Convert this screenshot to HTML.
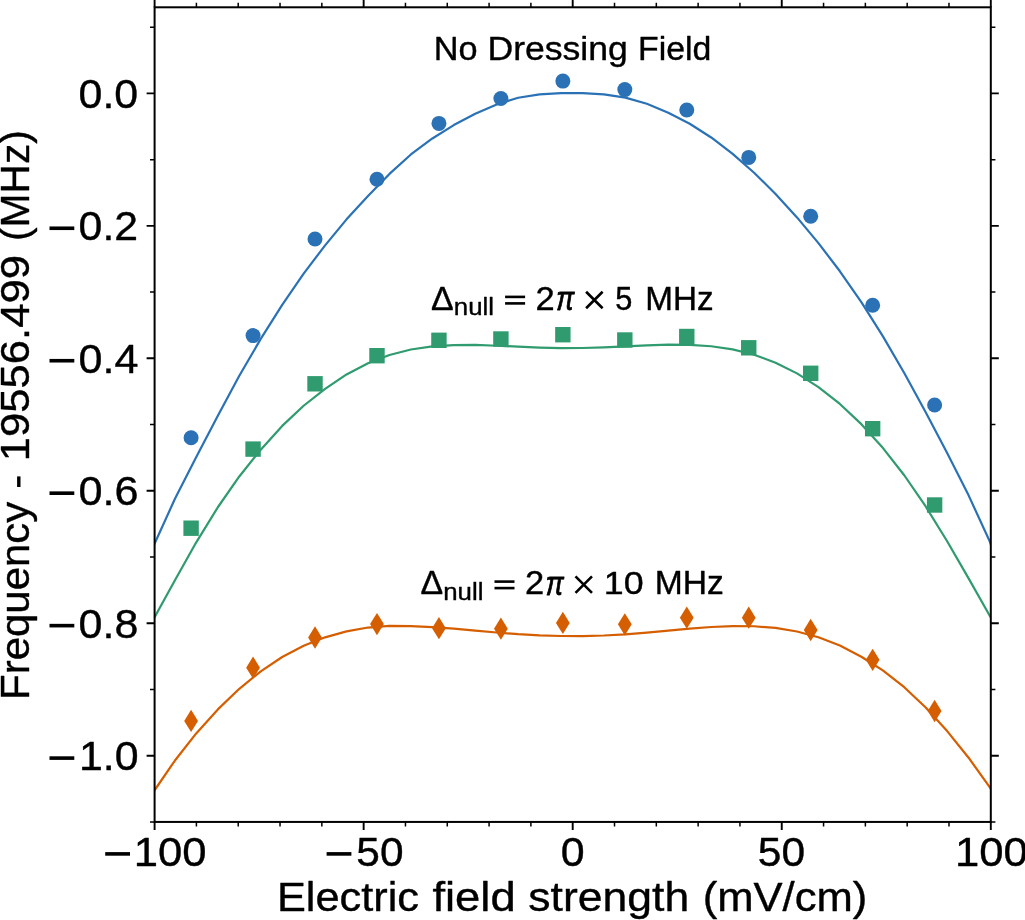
<!DOCTYPE html>
<html><head><meta charset="utf-8"><title>Chart</title>
<style>html,body{margin:0;padding:0;background:#fff;width:1025px;height:920px;overflow:hidden}svg{display:block;will-change:transform}</style>
</head><body>
<svg width="1025" height="920" viewBox="0 0 1025 920">
<defs><clipPath id="ax"><rect x="154.60" y="7.30" width="836.20" height="814.63"/></clipPath></defs>
<rect x="0" y="0" width="1025" height="920" fill="#fff"/>
<g fill="none" stroke-width="2.2" stroke-linejoin="round" clip-path="url(#ax)">
<path d="M132.05,612.39 L153.50,546.04 L174.95,498.79 L196.40,456.74 L217.85,415.64 L239.30,375.80 L260.75,338.90 L282.20,304.82 L303.65,273.59 L325.10,245.35 L346.55,219.35 L368.00,195.92 L389.45,173.91 L410.90,154.49 L432.35,138.46 L453.80,125.09 L475.25,113.76 L496.70,104.39 L518.15,97.75 L539.60,94.30 L561.05,93.09 L582.50,93.11 L603.95,94.37 L625.40,97.59 L646.85,103.81 L668.30,112.67 L689.75,123.76 L711.20,137.49 L732.65,153.84 L754.10,172.71 L775.55,193.93 L797.00,217.40 L818.45,243.12 L839.90,271.28 L861.35,302.18 L882.80,336.08 L904.25,372.94 L925.70,412.24 L947.15,453.11 L968.60,495.34 L990.05,542.16 L1011.50,606.21" stroke="#2a72b5"/>
<path d="M132.05,653.60 L153.50,619.26 L174.95,580.33 L196.40,542.07 L217.85,507.25 L239.30,476.48 L260.75,449.65 L282.20,425.91 L303.65,405.76 L325.10,388.86 L346.55,374.42 L368.00,363.29 L389.45,355.03 L410.90,349.50 L432.35,346.34 L453.80,345.09 L475.25,344.94 L496.70,345.73 L518.15,346.65 L539.60,347.54 L561.05,348.05 L582.50,348.01 L603.95,347.36 L625.40,346.35 L646.85,345.37 L668.30,344.71 L689.75,344.84 L711.20,346.25 L732.65,349.42 L754.10,354.77 L775.55,362.67 L797.00,373.37 L818.45,387.07 L839.90,403.95 L861.35,424.14 L882.80,447.84 L904.25,475.25 L925.70,506.49 L947.15,541.23 L968.60,578.42 L990.05,616.25 L1011.50,650.07" stroke="#2f9b6f"/>
<path d="M132.05,826.84 L153.50,791.76 L174.95,760.52 L196.40,733.15 L217.85,709.41 L239.30,688.79 L260.75,671.30 L282.20,657.03 L303.65,645.74 L325.10,637.35 L346.55,631.35 L368.00,627.53 L389.45,625.97 L410.90,626.06 L432.35,627.11 L453.80,628.71 L475.25,630.58 L496.70,632.51 L518.15,634.20 L539.60,635.40 L561.05,636.01 L582.50,636.04 L603.95,635.48 L625.40,634.32 L646.85,632.64 L668.30,630.65 L689.75,628.66 L711.20,627.01 L732.65,626.08 L754.10,626.25 L775.55,627.93 L797.00,631.48 L818.45,637.27 L839.90,645.59 L861.35,656.71 L882.80,670.44 L904.25,687.24 L925.70,707.54 L947.15,731.11 L968.60,757.69 L990.05,787.70 L1011.50,821.57" stroke="#d55e00"/>
</g>
<g fill="#2a72b5"><circle cx="191.10" cy="437.80" r="7.5"/><circle cx="253.06" cy="335.60" r="7.5"/><circle cx="315.02" cy="239.00" r="7.5"/><circle cx="376.98" cy="179.30" r="7.5"/><circle cx="438.94" cy="123.40" r="7.5"/><circle cx="500.90" cy="98.50" r="7.5"/><circle cx="562.86" cy="81.10" r="7.5"/><circle cx="624.82" cy="89.60" r="7.5"/><circle cx="686.78" cy="110.00" r="7.5"/><circle cx="748.74" cy="157.40" r="7.5"/><circle cx="810.70" cy="216.30" r="7.5"/><circle cx="872.66" cy="305.20" r="7.5"/><circle cx="934.62" cy="405.00" r="7.5"/></g>
<g fill="#2f9b6f"><rect x="183.40" y="520.50" width="15.4" height="15.4"/><rect x="245.36" y="441.40" width="15.4" height="15.4"/><rect x="307.32" y="376.10" width="15.4" height="15.4"/><rect x="369.28" y="348.00" width="15.4" height="15.4"/><rect x="431.24" y="332.60" width="15.4" height="15.4"/><rect x="493.20" y="331.30" width="15.4" height="15.4"/><rect x="555.16" y="327.00" width="15.4" height="15.4"/><rect x="617.12" y="332.30" width="15.4" height="15.4"/><rect x="679.08" y="328.80" width="15.4" height="15.4"/><rect x="741.04" y="340.10" width="15.4" height="15.4"/><rect x="803.00" y="365.60" width="15.4" height="15.4"/><rect x="864.96" y="421.00" width="15.4" height="15.4"/><rect x="926.92" y="497.30" width="15.4" height="15.4"/></g>
<g fill="#d55e00"><path d="M191.10,709.75 L198.00,720.90 L191.10,732.05 L184.20,720.90Z"/><path d="M253.06,656.55 L259.96,667.70 L253.06,678.85 L246.16,667.70Z"/><path d="M315.02,626.35 L321.92,637.50 L315.02,648.65 L308.12,637.50Z"/><path d="M376.98,612.95 L383.88,624.10 L376.98,635.25 L370.08,624.10Z"/><path d="M438.94,617.05 L445.84,628.20 L438.94,639.35 L432.04,628.20Z"/><path d="M500.90,617.55 L507.80,628.70 L500.90,639.85 L494.00,628.70Z"/><path d="M562.86,611.75 L569.76,622.90 L562.86,634.05 L555.96,622.90Z"/><path d="M624.82,613.15 L631.72,624.30 L624.82,635.45 L617.92,624.30Z"/><path d="M686.78,606.55 L693.68,617.70 L686.78,628.85 L679.88,617.70Z"/><path d="M748.74,606.55 L755.64,617.70 L748.74,628.85 L741.84,617.70Z"/><path d="M810.70,618.85 L817.60,630.00 L810.70,641.15 L803.80,630.00Z"/><path d="M872.66,648.65 L879.56,659.80 L872.66,670.95 L865.76,659.80Z"/><path d="M934.62,699.85 L941.52,711.00 L934.62,722.15 L927.72,711.00Z"/></g>
<path d="M146.60,93.40H154.60M990.80,93.40H998.80M146.60,225.86H154.60M990.80,225.86H998.80M146.60,358.32H154.60M990.80,358.32H998.80M146.60,490.78H154.60M990.80,490.78H998.80M146.60,623.24H154.60M990.80,623.24H998.80M146.60,755.70H154.60M990.80,755.70H998.80M154.60,821.93V829.93M154.60,7.30V-0.70M363.65,821.93V829.93M363.65,7.30V-0.70M572.70,821.93V829.93M572.70,7.30V-0.70M781.75,821.93V829.93M781.75,7.30V-0.70M990.80,821.93V829.93M990.80,7.30V-0.70" stroke="#000" stroke-width="1.9" fill="none"/>
<path d="M150.00,27.17H154.60M990.80,27.17H995.40M150.00,159.63H154.60M990.80,159.63H995.40M150.00,292.09H154.60M990.80,292.09H995.40M150.00,424.55H154.60M990.80,424.55H995.40M150.00,557.01H154.60M990.80,557.01H995.40M150.00,689.47H154.60M990.80,689.47H995.40M150.00,821.93H154.60M990.80,821.93H995.40M196.41,821.93V826.53M196.41,7.30V2.70M238.22,821.93V826.53M238.22,7.30V2.70M280.03,821.93V826.53M280.03,7.30V2.70M321.84,821.93V826.53M321.84,7.30V2.70M405.46,821.93V826.53M405.46,7.30V2.70M447.27,821.93V826.53M447.27,7.30V2.70M489.08,821.93V826.53M489.08,7.30V2.70M530.89,821.93V826.53M530.89,7.30V2.70M614.51,821.93V826.53M614.51,7.30V2.70M656.32,821.93V826.53M656.32,7.30V2.70M698.13,821.93V826.53M698.13,7.30V2.70M739.94,821.93V826.53M739.94,7.30V2.70M823.56,821.93V826.53M823.56,7.30V2.70M865.37,821.93V826.53M865.37,7.30V2.70M907.18,821.93V826.53M907.18,7.30V2.70M948.99,821.93V826.53M948.99,7.30V2.70" stroke="#000" stroke-width="1.5" fill="none"/>
<rect x="154.60" y="7.30" width="836.20" height="814.63" fill="none" stroke="#000" stroke-width="2" stroke-linejoin="miter"/>
<g fill="#000"><rect x="49.5" y="226.46" width="24.8" height="3.6"/><rect x="49.5" y="358.92" width="24.8" height="3.6"/><rect x="49.5" y="491.38" width="24.8" height="3.6"/><rect x="49.5" y="623.84" width="24.8" height="3.6"/><rect x="49.5" y="756.30" width="24.8" height="3.6"/><rect x="105.2" y="852.1" width="24.8" height="3.6"/><rect x="17.1" y="476.4" width="3.4" height="10.6"/><rect x="326.6" y="852.1" width="24.8" height="3.6"/><rect x="505.10" y="295.60" width="20" height="2.6"/><rect x="505.10" y="302.10" width="20" height="2.6"/><rect x="494.50" y="580.30" width="20" height="2.6"/><rect x="494.50" y="586.80" width="20" height="2.6"/></g>
<path d="M586.10,291.75L602.60,308.25M602.60,291.75L586.10,308.25M575.50,576.45L592.00,592.95M592.00,576.45L575.50,592.95" stroke="#000" stroke-width="2.6" fill="none"/>
<g font-family='"Liberation Sans", sans-serif' font-size="200" fill="#000">
<text transform="matrix(0.1714 0 0 0.1674 433.657 60.300)" stroke="#000" stroke-width="2.36" stroke-linejoin="round">No</text>
<text transform="matrix(0.1779 0 0 0.1674 487.454 60.300)" stroke="#000" stroke-width="2.32" stroke-linejoin="round">Dressing</text>
<text transform="matrix(0.1691 0 0 0.1674 638.095 60.300)" stroke="#000" stroke-width="2.38" stroke-linejoin="round">Field</text>
<text transform="matrix(0.1697 0 0 0.1638 430.982 309.600)" stroke="#000" stroke-width="2.40" stroke-linejoin="round">Δ</text>
<text transform="matrix(0.1291 0 0 0.1177 453.821 315.265)" stroke="#000" stroke-width="3.24" stroke-linejoin="round">null</text>
<text transform="matrix(0.1725 0 0 0.1657 535.475 309.700)" stroke="#000" stroke-width="2.37" stroke-linejoin="round">2</text>
<text transform="matrix(0.1344 0 0 0.1648 556.291 310.170)" font-style="italic" stroke="#000" stroke-width="5.38" stroke-linejoin="round">π</text>
<text transform="matrix(0.1537 0 0 0.1621 615.371 309.676)" stroke="#000" stroke-width="2.53" stroke-linejoin="round">5</text>
<text transform="matrix(0.1662 0 0 0.1623 645.340 309.700)" stroke="#000" stroke-width="2.44" stroke-linejoin="round">MHz</text>
<text transform="matrix(0.1697 0 0 0.1638 420.382 594.300)" stroke="#000" stroke-width="2.40" stroke-linejoin="round">Δ</text>
<text transform="matrix(0.1291 0 0 0.1177 443.221 599.965)" stroke="#000" stroke-width="3.24" stroke-linejoin="round">null</text>
<text transform="matrix(0.1725 0 0 0.1657 524.875 594.400)" stroke="#000" stroke-width="2.37" stroke-linejoin="round">2</text>
<text transform="matrix(0.1344 0 0 0.1648 545.691 594.870)" font-style="italic" stroke="#000" stroke-width="5.38" stroke-linejoin="round">π</text>
<text transform="matrix(0.1790 0 0 0.1599 603.815 594.380)" stroke="#000" stroke-width="2.36" stroke-linejoin="round">10</text>
<text transform="matrix(0.1681 0 0 0.1623 654.811 594.400)" stroke="#000" stroke-width="2.42" stroke-linejoin="round">MHz</text>
<text transform="matrix(0.2145 0 0 0.2021 78.584 107.996)" stroke="#000" stroke-width="1.92" stroke-linejoin="round">0.0</text>
<text transform="matrix(0.2142 0 0 0.2021 78.586 240.456)" stroke="#000" stroke-width="1.92" stroke-linejoin="round">0.2</text>
<text transform="matrix(0.2152 0 0 0.2021 78.579 372.916)" stroke="#000" stroke-width="1.92" stroke-linejoin="round">0.4</text>
<text transform="matrix(0.2161 0 0 0.2021 78.571 505.376)" stroke="#000" stroke-width="1.91" stroke-linejoin="round">0.6</text>
<text transform="matrix(0.2149 0 0 0.2021 78.580 637.836)" stroke="#000" stroke-width="1.92" stroke-linejoin="round">0.8</text>
<text transform="matrix(0.2145 0 0 0.2021 78.882 770.296)" stroke="#000" stroke-width="1.92" stroke-linejoin="round">1.0</text>
<text transform="matrix(0.2183 0 0 0.2014 133.725 866.097)" stroke="#000" stroke-width="1.91" stroke-linejoin="round">100</text>
<text transform="matrix(0.2121 0 0 0.2014 356.303 866.097)" stroke="#000" stroke-width="1.94" stroke-linejoin="round">50</text>
<text transform="matrix(0.2147 0 0 0.2014 560.682 866.097)" stroke="#000" stroke-width="1.92" stroke-linejoin="round">0</text>
<text transform="matrix(0.2126 0 0 0.2014 757.800 866.097)" stroke="#000" stroke-width="1.93" stroke-linejoin="round">50</text>
<text transform="matrix(0.2183 0 0 0.2014 955.025 866.097)" stroke="#000" stroke-width="1.91" stroke-linejoin="round">100</text>
<text transform="matrix(0.2166 0 0 0.2014 276.935 911.400)" stroke="#000" stroke-width="1.92" stroke-linejoin="round">Electric</text>
<text transform="matrix(0.2271 0 0 0.2014 432.419 911.400)" stroke="#000" stroke-width="1.87" stroke-linejoin="round">field</text>
<text transform="matrix(0.2227 0 0 0.2014 528.264 911.400)" stroke="#000" stroke-width="1.89" stroke-linejoin="round">strength</text>
<text transform="matrix(0.2181 0 0 0.2014 702.683 911.400)" stroke="#000" stroke-width="1.91" stroke-linejoin="round">(mV/cm)</text>
<text transform="translate(29.300 699.959) rotate(-90) scale(0.2099 0.2036)" stroke="#000" stroke-width="1.93" stroke-linejoin="round">Frequency</text>
<text transform="translate(29.300 461.170) rotate(-90) scale(0.2180 0.2036)" stroke="#000" stroke-width="1.90" stroke-linejoin="round">19556.499</text>
<text transform="translate(29.300 240.942) rotate(-90) scale(0.2035 0.2036)" stroke="#000" stroke-width="1.97" stroke-linejoin="round">(MHz)</text>
</g>
</svg>
</body></html>
